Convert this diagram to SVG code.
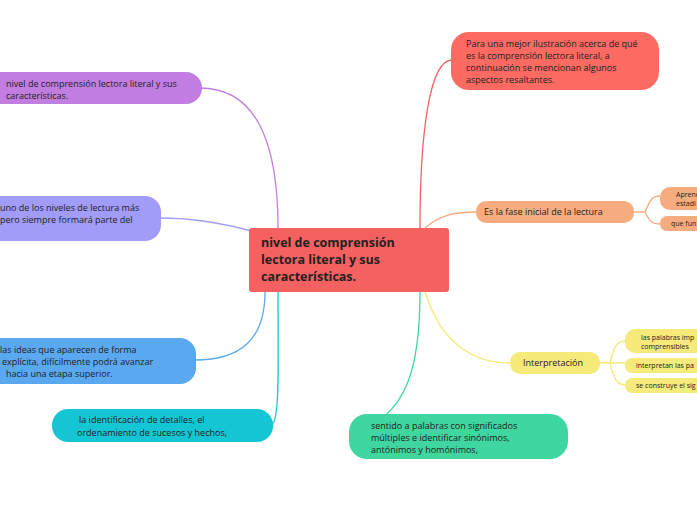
<svg xmlns="http://www.w3.org/2000/svg" width="697" height="520" viewBox="0 0 697 520">
<style>
text{font-family:"Open Sans","Noto Sans",sans-serif;fill:#222}
.s{font-size:9px}.t{font-size:7px}.c{fill:none;stroke-width:1.3}
</style>
<rect width="697" height="520" fill="#fff"/>
<g id="connectors">
<path class="c" stroke="#c27de0" d="M278,228 C278,150 260,88 200,88"/>
<path class="c" stroke="#a09cf7" d="M255,232 C230,225 200,218 160,218"/>
<path class="c" stroke="#5aa9f0" d="M265,292 C265,340 240,360 195,360"/>
<path class="c" stroke="#14c6d4" d="M278,292 C278,360 280,420 272,424"/>
<path class="c" stroke="#f56060" d="M420,228 C420,130 430,60 452,60"/>
<path class="c" stroke="#f7ac80" d="M425,228 C440,215 455,212 476,212"/>
<path class="c" stroke="#f5ea7a" d="M425,292 C440,340 470,363 510,363"/>
<path class="c" stroke="#3fd6a0" d="M420,292 C420,360 410,420 350,432"/>
<path class="c" stroke="#f7ac80" d="M634,212 H645 M645,212 C650,200 652,196 660,196 M645,212 C650,222 652,224 660,224"/>
<path class="c" stroke="#f5ea7a" d="M600,363 H610 M610,363 C614,345 618,341 625,341 M610,363 H625 M610,363 C614,380 618,385 625,385"/>
</g>
<g id="center"><rect x="249" y="228" width="200" height="64" rx="3" fill="#f56060"/>
<text x="261" y="247" font-weight="bold" font-size="12.5" fill="#111">nivel de comprensión<tspan x="261" y="264">lectora literal y sus</tspan><tspan x="261" y="281">características.</tspan></text></g>
<g id="n1"><rect x="-20" y="72" width="222" height="32" rx="16" fill="#c27de0"/><text class="s" x="6" y="87">nivel de comprensión lectora literal y sus<tspan x="6" y="99">características.</tspan></text></g>
<g id="n2"><rect x="-20" y="196" width="181" height="45" rx="16" fill="#a09cf7"/><text class="s" x="0" y="211">uno de los niveles de lectura más<tspan x="0" y="223">pero siempre formará parte del</tspan></text></g>
<g id="n3"><rect x="-20" y="338" width="216" height="46" rx="16" fill="#5aa9f0"/><text class="s" x="0" y="353">las ideas que aparecen de forma<tspan x="2" y="365">explícita, difícilmente podrá avanzar</tspan><tspan x="6" y="377">hacia una etapa superior.</tspan></text></g>
<g id="n4"><rect x="52" y="409" width="221" height="33" rx="16" fill="#14c6d4"/><text class="s" x="79" y="423">la identificación de detalles, el<tspan x="77" y="436">ordenamiento de sucesos y hechos,</tspan></text></g>
<g id="n5"><rect x="451" y="32" width="208" height="58" rx="18" fill="#fd6a62"/><text class="s" x="466" y="47">Para una mejor ilustración acerca de qué<tspan x="466" y="59">es la comprensión lectora literal, a</tspan><tspan x="466" y="71">continuación se mencionan algunos</tspan><tspan x="466" y="83">aspectos resaltantes.</tspan></text></g>
<g id="n6"><rect x="476" y="201" width="158" height="22" rx="10" fill="#f7ac80"/><text class="s" x="484" y="215">Es la fase inicial de la lectura</text></g>
<g id="n6a"><rect x="660" y="187" width="50" height="23" rx="10" fill="#f7ac80"/><text class="t" x="676" y="197">Aprend<tspan x="676" y="206">estadi</tspan></text></g>
<g id="n6b"><rect x="660" y="216" width="50" height="15" rx="7" fill="#f7ac80"/><text class="t" x="671" y="226">que fun</text></g>
<g id="n7"><rect x="510" y="352" width="90" height="22" rx="10" fill="#f5ea7a"/><text class="s" x="523" y="366">Interpretación</text></g>
<g id="n7a"><rect x="625" y="329" width="80" height="24" rx="10" fill="#f5ea7a"/><text class="t" x="641" y="340">las palabras imp<tspan x="641" y="349">comprensibles</tspan></text></g>
<g id="n7b"><rect x="625" y="358" width="80" height="15" rx="7" fill="#f5ea7a"/><text class="t" x="636" y="368">interpretan las pa</text></g>
<g id="n7c"><rect x="625" y="378" width="80" height="15" rx="7" fill="#f5ea7a"/><text class="t" x="636" y="388">se construye el sig</text></g>
<g id="n8"><rect x="349" y="414" width="219" height="45" rx="18" fill="#3fd6a0"/><text class="s" x="371" y="429">sentido a palabras con significados<tspan x="371" y="441">múltiples e identificar sinónimos,</tspan><tspan x="371" y="453">antónimos y homónimos,</tspan></text></g>
</svg>
